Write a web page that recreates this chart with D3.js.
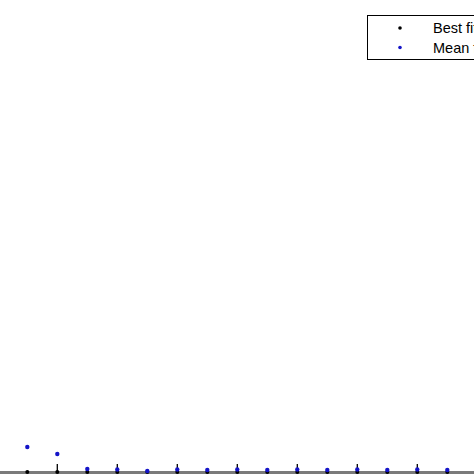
<!DOCTYPE html>
<meta charset="utf-8">
<style>
 body { margin: 0; background: #fff; }
 svg { display: block; }
 text {
  font-family: "Liberation Sans", Arial, Helvetica, sans-serif;
  font-size: 14.5px;
 }
</style>
<body>
  <div id="chart"></div>
  <script src="https://cdn.jsdelivr.net/npm/d3@7/dist/d3.min.js"></script>
  <script>
var generations = [1, 2, 3, 4, 5, 6, 7, 8, 9, 10, 11, 12, 13, 14, 15];
var bestFit = [0, 0, 0, 0, 0, 0, 0, 0, 0, 0, 0, 0, 0, 0, 0];
var meanFit = [5.3, 3.8, 0.64, 0.53, 0.21, 0.53, 0.42, 0.53, 0.42, 0.53, 0.42, 0.53, 0.42, 0.53, 0.42];
var tickValues = [2, 4, 6, 8, 10, 12, 14];
var legendLabels = ["Best fitness", "Mean fitness"];

(function(){
  var width = 474, height = 474;

  var svg = d3.select("#chart").append("svg")
      .attr("width", width)
      .attr("height", height);

  // plot area is cropped: only the bottom edge of the axes is visible
  var x = d3.scaleLinear().domain([1, 15]).range([27.3, 447.3]);
  var y = d3.scaleLinear().domain([0, 100]).range([472, 0]);

  // bottom axis line
  svg.append("line")
      .attr("x1", 0).attr("x2", width)
      .attr("y1", 472.5).attr("y2", 472.5)
      .attr("stroke", "#7a7a7a")
      .attr("stroke-width", 3);

  // inward ticks
  svg.append("g").selectAll("line")
      .data(tickValues)
    .enter().append("line")
      .attr("x1", function(d) { return x(d); })
      .attr("x2", function(d) { return x(d); })
      .attr("y1", 471)
      .attr("y2", 464)
      .attr("stroke", "#000")
      .attr("stroke-width", 1.3);

  svg.append("g").selectAll("circle")
      .data(generations)
    .enter().append("circle")
      .attr("cx", function(d) { return x(d); })
      .attr("cy", function(d, i) { return y(bestFit[i]); })
      .attr("r", 2)
      .attr("fill", "#000");

  svg.append("g").selectAll("circle")
      .data(generations)
    .enter().append("circle")
      .attr("cx", function(d) { return x(d); })
      .attr("cy", function(d, i) { return y(meanFit[i]); })
      .attr("r", 2.2)
      .attr("fill", "#1414c8");

  // legend
  var legend = svg.append("g");
  legend.append("rect")
      .attr("x", 367.5).attr("y", 15.5)
      .attr("width", 130).attr("height", 44)
      .attr("fill", "#fff")
      .attr("stroke", "#000")
      .attr("stroke-width", 1);

  var colors = ["#000", "#1414c8"];
  var rows = legend.selectAll("g.row")
      .data(legendLabels)
    .enter().append("g")
      .attr("class", "row")
      .attr("transform", function(d, i) { return "translate(0," + (28 + i * 19.5) + ")"; });

  rows.append("circle")
      .attr("cx", 400)
      .attr("r", 1.8)
      .attr("fill", function(d, i) { return colors[i]; });

  rows.append("text")
      .attr("x", 433)
      .attr("dy", 5)
      .attr("fill", "#000")
      .text(function(d) { return d; });
})();
  </script>
</body>
